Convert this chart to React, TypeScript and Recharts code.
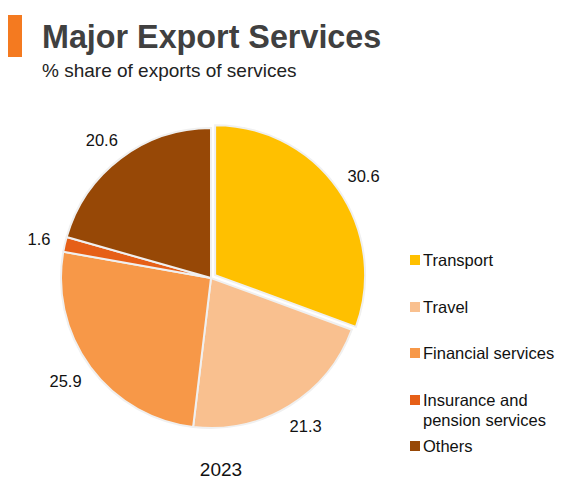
import React from 'react';
import { PieChart, Pie, Cell, Legend } from 'recharts';

const categories = ['Transport', 'Travel', 'Financial services', 'Insurance and pension services', 'Others'];
const legendLines = [['Transport'], ['Travel'], ['Financial services'], ['Insurance and', 'pension services'], ['Others']];
const shares = [30.6, 21.3, 25.9, 1.6, 20.6];
const colors = ['#FFC000', '#F9C08F', '#F79848', '#E65F17', '#974806'];
const yearLabel = '2023';

const data = categories.map((name, i) => ({ name, value: shares[i] }));

const RAD = Math.PI / 180;
const font = '"Liberation Sans", Arial, sans-serif';
const margin = { top: 0, right: 0, bottom: 0, left: 0 };
const cx = 211;
const cy = 278;
const radius = 150;
const explode = 5;
const explodedIndex = 0;
const labelSize = 16.5;

// offset of the pulled-out slice, along its middle angle (clockwise from 12 o'clock)
const total = shares.reduce((a, b) => a + b, 0);
const midFrac = shares.slice(0, explodedIndex).reduce((a, b) => a + b, 0) / total + shares[explodedIndex] / total / 2;
const exCx = cx + explode * Math.sin(midFrac * 2 * Math.PI);
const exCy = cy - explode * Math.cos(midFrac * 2 * Math.PI);

// "outside end" labels: the text box sits just beyond the rim, pushed outward along the slice direction
const makeLabel = (show: (i: number) => boolean) => (props: any) => {
  const { cx: x0, cy: y0, midAngle, outerRadius, value, index } = props;
  if (!show(index)) return null;
  const text = Number(value).toFixed(1);
  const w = labelSize * (0.556 * (text.length - 1) + 0.278);
  const h = 16;
  const dx = Math.cos(-midAngle * RAD);
  const dy = Math.sin(-midAngle * RAD);
  const r = outerRadius + 15;
  const x = x0 + r * dx + (w / 2) * dx;
  const y = y0 + r * dy + (h / 2) * dy;
  return (
    <text x={x} y={y} textAnchor='middle' dominantBaseline='central' fill='#111' fontSize={labelSize} fontFamily={font}>
      {text}
    </text>
  );
};

const renderLegend = () => (
  <div style={{ fontFamily: font, fontSize: 16.5, color: '#111', lineHeight: '20px' }}>
    {legendLines.map((lines, i) => (
      <div key={categories[i]} style={{ position: 'relative', height: 46.5, paddingLeft: 13 }}>
        <span style={{ position: 'absolute', left: 0, top: 5, width: 10, height: 10, background: colors[i] }} />
        {lines.map((l) => (
          <div key={l}>{l}</div>
        ))}
      </div>
    ))}
  </div>
);

const App: React.FC = () => {
  return (
    <div style={{ position: 'absolute', left: 0, top: 0, width: 579, height: 495, background: '#fff' }}>
      <div style={{ position: 'absolute', left: 8, top: 15, width: 14, height: 42, background: '#F47A20' }} />
      <div style={{ position: 'absolute', left: 42, top: 17, fontFamily: font, fontWeight: 'bold', fontSize: 32.3, color: '#404040', lineHeight: '40px', whiteSpace: 'nowrap' }}>
        Major Export Services
      </div>
      <div style={{ position: 'absolute', left: 42, top: 59, fontFamily: font, fontSize: 19, color: '#222', lineHeight: '24px', whiteSpace: 'nowrap' }}>
        % share of exports of services
      </div>
      <div style={{ position: 'absolute', left: 0, top: 0 }}>
        <PieChart width={579} height={495} margin={margin}>
          <Pie
            data={data}
            dataKey='value'
            nameKey='name'
            cx={cx}
            cy={cy}
            outerRadius={radius}
            startAngle={90}
            endAngle={-270}
            stroke='#f0f0f0'
            strokeWidth={2}
            labelLine={false}
            label={makeLabel((i) => i !== explodedIndex)}
            isAnimationActive={false}
          >
            {data.map((d, i) => (
              <Cell key={d.name} fill={i === explodedIndex ? 'transparent' : colors[i]} stroke={i === explodedIndex ? 'none' : '#f0f0f0'} />
            ))}
          </Pie>
          <Pie
            data={data}
            dataKey='value'
            nameKey='name'
            cx={exCx}
            cy={exCy}
            outerRadius={radius}
            startAngle={90}
            endAngle={-270}
            stroke='#f0f0f0'
            strokeWidth={2}
            labelLine={false}
            label={makeLabel((i) => i === explodedIndex)}
            isAnimationActive={false}
          >
            {data.map((d, i) => (
              <Cell key={d.name} fill={i === explodedIndex ? colors[i] : 'transparent'} stroke={i === explodedIndex ? '#f0f0f0' : 'none'} />
            ))}
          </Pie>
          <Legend
            layout='vertical'
            verticalAlign='middle'
            align='center'
            content={renderLegend}
            wrapperStyle={{ left: 410, top: 250, width: 170 }}
          />
          <text x={221} y={469} textAnchor='middle' dominantBaseline='central' fontSize={19} fontFamily={font} fill='#111'>
            {yearLabel}
          </text>
        </PieChart>
      </div>
    </div>
  );
};

export default App;
